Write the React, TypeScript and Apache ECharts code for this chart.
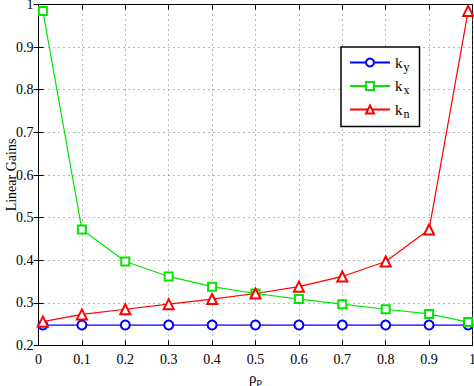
import React, { useEffect, useRef } from "react";
import * as echarts from "echarts";

const rho = [0.01, 0.1, 0.2, 0.3, 0.4, 0.5, 0.6, 0.7, 0.8, 0.9, 0.99];
const ky = [0.248, 0.248, 0.248, 0.248, 0.248, 0.248, 0.248, 0.248, 0.248, 0.248, 0.248];
const kx = [0.985, 0.472, 0.397, 0.362, 0.338, 0.322, 0.309, 0.297, 0.285, 0.274, 0.255];
const kn = [0.256, 0.273, 0.285, 0.297, 0.309, 0.322, 0.338, 0.362, 0.397, 0.472, 0.985];
const seriesNames = ["ky", "kx", "kn"];
const seriesSubs = ["y", "x", "n"];

const FONT = "Liberation Serif";

export default function App() {
  const ref = useRef<HTMLDivElement>(null);
  useEffect(() => {
    const chart = echarts.init(ref.current!, null, { renderer: "svg" });
    const pairs = (ys: number[]) => rho.map((x, i) => [x, ys[i]]);
    const tick = { show: true, inside: true, length: 5, lineStyle: { color: "#000", width: 1 } };
    const split = { show: true, lineStyle: { color: "#777", type: [1, 4] as any, width: 1 } };
    chart.setOption({
      animation: false,
      backgroundColor: "#fff",
      textStyle: { fontFamily: FONT },
      grid: {
        left: 38.5, right: 1.5, top: 4.5, bottom: 40.5,
        containLabel: false, outerBoundsMode: "none",
        show: true, borderColor: "#000", borderWidth: 1,
      },
      legend: {
        orient: "vertical",
        left: 341,
        top: 47,
        width: 72,
        backgroundColor: "#fff",
        borderColor: "#000",
        borderWidth: 1.5,
        padding: [8, 10, 7, 8],
        itemWidth: 40,
        itemHeight: 10,
        itemGap: 6,
        data: seriesNames,
        formatter: (name: string) => "k{sub|" + seriesSubs[seriesNames.indexOf(name)] + "}",
        textStyle: {
          fontFamily: FONT,
          fontSize: 15,
          color: "#000",
          rich: { sub: { fontSize: 12, fontFamily: FONT, padding: [8, 0, 0, 1] } },
        },
      },
      xAxis: [
        {
          type: "value", min: 0, max: 1, interval: 0.1,
          axisLine: { show: true, lineStyle: { color: "#000" } },
          axisTick: tick,
          splitLine: split,
          axisLabel: { color: "#000", fontSize: 14, fontFamily: FONT, margin: 7 },
          name: "ρ{sub|p}",
          nameLocation: "middle",
          nameGap: 24,
          nameMoveOverlap: false,
          nameTextStyle: { color: "#000", fontSize: 15, fontFamily: FONT, rich: { sub: { fontSize: 11, fontFamily: FONT, padding: [6, 0, 0, 0] } } },
        },
        {
          type: "value", min: 0, max: 1, interval: 0.1, position: "top",
          axisLine: { show: true, lineStyle: { color: "#000" } },
          axisTick: tick, axisLabel: { show: false }, splitLine: { show: false },
        },
      ],
      yAxis: [
        {
          type: "value", min: 0.2, max: 1, interval: 0.1,
          axisLine: { show: true, lineStyle: { color: "#000" } },
          axisTick: tick,
          splitLine: split,
          axisLabel: { color: "#000", fontSize: 14, fontFamily: FONT, margin: 5 },
          name: "Linear Gains",
          nameLocation: "middle",
          nameGap: 20,
          nameMoveOverlap: false,
          nameTextStyle: { color: "#000", fontSize: 14, fontFamily: FONT },
        },
        {
          type: "value", min: 0.2, max: 1, interval: 0.1, position: "right",
          axisLine: { show: true, lineStyle: { color: "#000" } },
          axisTick: tick, axisLabel: { show: false }, splitLine: { show: false },
        },
      ],
      series: [
        {
          name: "ky", type: "line", data: pairs(ky), symbol: "emptyCircle", symbolSize: 9,
          lineStyle: { color: "#0000ff", width: 1.2 }, itemStyle: { color: "#0000ff", borderWidth: 1.5 },
        },
        {
          name: "kx", type: "line", data: pairs(kx), symbol: "emptyRect", symbolSize: 8,
          lineStyle: { color: "#00e600", width: 1.2 }, itemStyle: { color: "#00e600", borderWidth: 1.2 },
        },
        {
          name: "kn", type: "line", data: pairs(kn), symbol: "emptyTriangle", symbolSize: 10,
          lineStyle: { color: "#ff0000", width: 1.2 }, itemStyle: { color: "#ff0000", borderWidth: 1.2 },
        },
      ],
    });
    return () => chart.dispose();
  }, []);
  return <div ref={ref} style={{ position: "fixed", left: 0, top: 0, width: 474, height: 386 }} />;
}
